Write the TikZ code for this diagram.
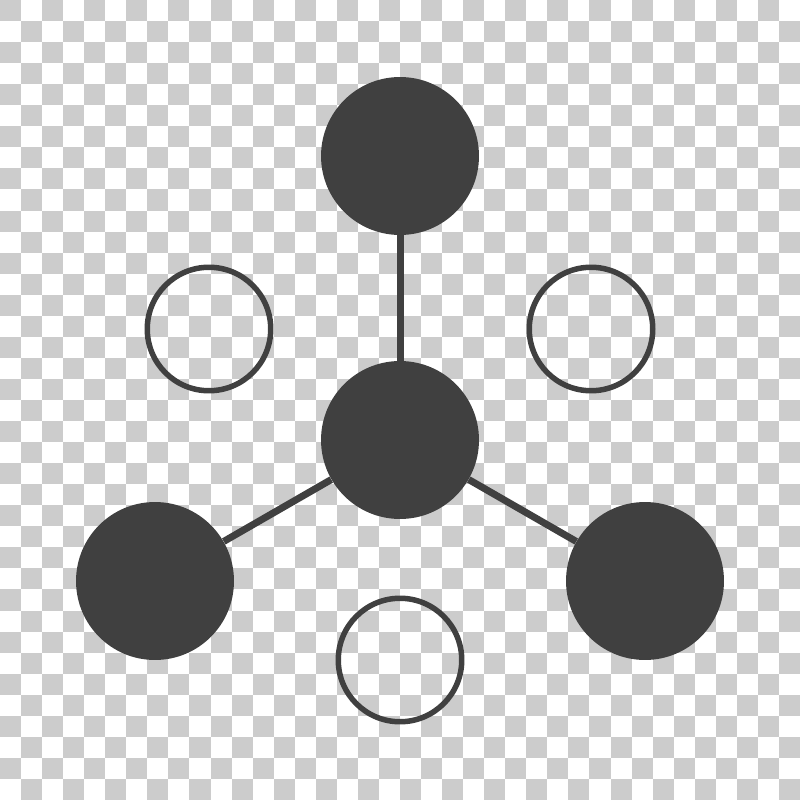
\documentclass[tikz,border=0pt]{standalone}
\definecolor{checkgray}{HTML}{CCCCCC}
\definecolor{icondark}{HTML}{404040}
\tikzset{
  px/.style={x={(0.02cm,0)},y={(0,-0.02cm)}},
  bigdot/.style={circle,fill=icondark,draw=none,inner sep=0pt,minimum size=3.16cm},
  ring/.style={circle,draw=icondark,line width=0.11cm,fill=none,inner sep=0pt,minimum size=2.47cm},
  link/.style={draw=icondark,line width=0.14cm}
}
\begin{document}
\begin{tikzpicture}[px]
  \useasboundingbox (0,0) rectangle (800,800);
  \fill[white] (0,0) rectangle (800,800);
  \foreach \i in {0,...,37}{
    \foreach \j in {0,...,37}{
      \pgfmathtruncatemacro{\myparity}{mod(\i+\j,2)}
      \ifnum\myparity=0
        \fill[checkgray] ({\i*21.05263},{\j*21.05263}) rectangle ({(\i+1)*21.05263},{(\j+1)*21.05263});
      \fi
    }
  }
  \node[bigdot] (top) at (400,156) {};
  \node[bigdot] (mid) at (400,440) {};
  \node[bigdot] (left) at (155,581) {};
  \node[bigdot] (right) at (645,581) {};
  \node[ring] (ringL) at (209,329) {};
  \node[ring] (ringR) at (591,329) {};
  \node[ring] (ringB) at (400,660) {};
  \draw[link] (top) -- (mid);
  \draw[link] (mid) -- (left);
  \draw[link] (mid) -- (right);
\end{tikzpicture}
\end{document}
